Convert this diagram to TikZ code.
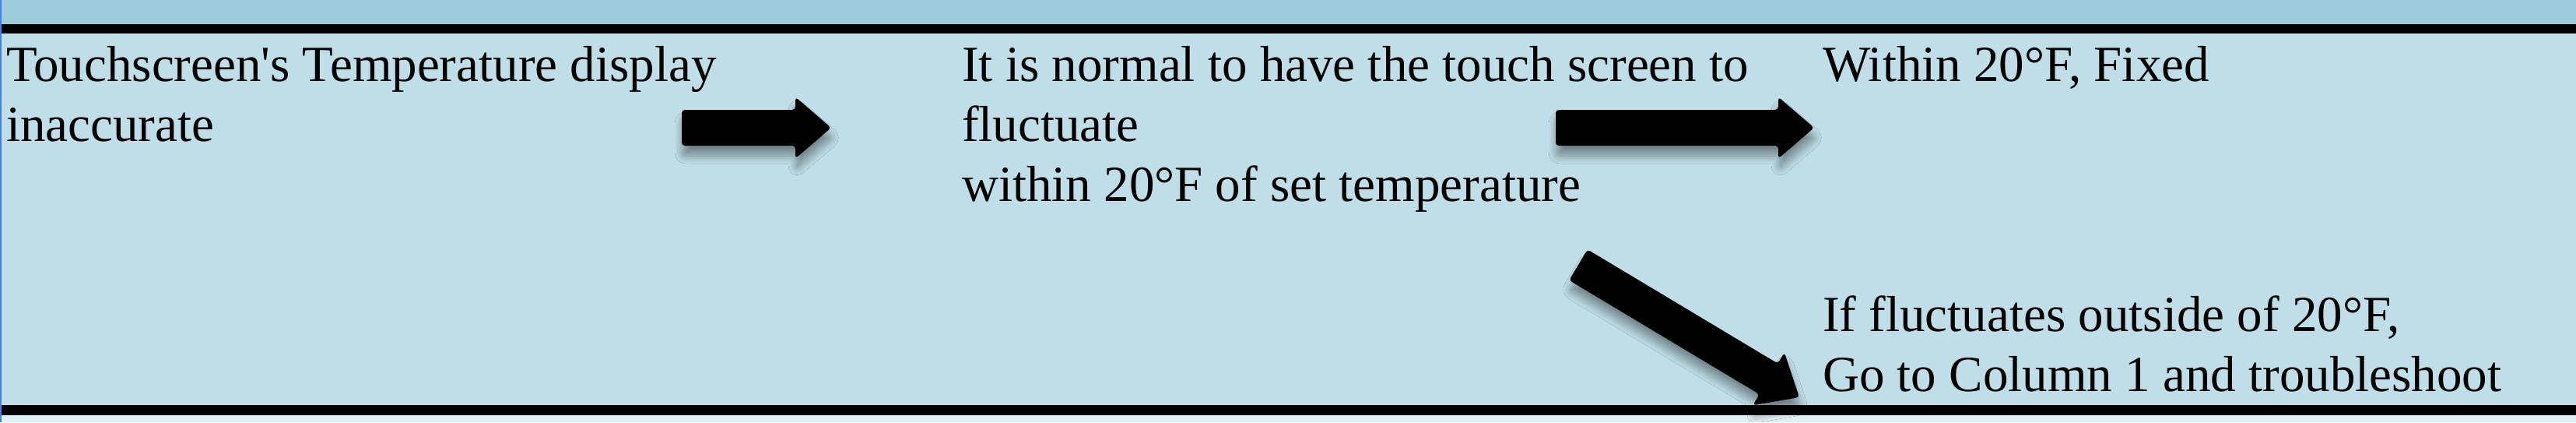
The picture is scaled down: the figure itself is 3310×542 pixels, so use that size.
\documentclass[tikz,border=0pt]{standalone}
\usepackage{fontspec}
\setmainfont{Liberation Serif}[Ligatures=TeXOff]
\usetikzlibrary{calc,shadows.blur}
\definecolor{topband}{RGB}{158,203,218}
\definecolor{mainbg}{RGB}{191,222,231}
\definecolor{botbg}{RGB}{222,239,245}
\definecolor{edgeblue}{RGB}{70,130,230}
\newcommand{\myblockarrow}[2]{%
  \coordinate (#1h) at ($(#2)!46pt!(#1)$);
  \fill[blockarrow] ($(#1)!23pt!90:(#2)$) -- ($(#1h)!23pt!90:(#2)$) -- ($(#1h)!39.5pt!90:(#2)$) -- (#2)
    -- ($(#1h)!39.5pt!-90:(#2)$) -- ($(#1h)!23pt!-90:(#2)$) -- ($(#1)!23pt!-90:(#2)$) -- cycle;}
\begin{document}
\begin{tikzpicture}[x=1pt,y=-1pt,
  txt/.style={anchor=base west, inner sep=0pt, align=left, font=\fontsize{65}{77}\selectfont},
  blockarrow/.style={fill=black, rounded corners=4pt,
    blur shadow={shadow xshift=1pt, shadow yshift=-13pt, shadow blur radius=10pt, shadow blur steps=14, shadow opacity=40}},
  blackrule/.style={line width=12.5pt, black}]
\useasboundingbox (0,0) rectangle (3310,542);
\fill[topband] (0,0) rectangle (3310,37);
\fill[mainbg] (0,37) rectangle (3310,526);
\fill[botbg] (0,526) rectangle (3310,542);
% texts (base anchor = baseline of the last line)
\node[txt] (t1) at (8,181) {Touchscreen's Temperature display\\inaccurate};
\node[txt] (t2) at (1236,258) {It is normal to have the touch screen to\\fluctuate\\within 20°F of set temperature};
\node[txt] (t3) at (2342,104) {Within 20°F, Fixed};
\node[txt] (t4) at (2342,502) {If fluctuates outside of 20°F,\\Go to Column 1 and troubleshoot};
% arrows
\coordinate (a1) at (876,164);
\coordinate (a1e) at (1068,164);
\coordinate (a2) at (1999,164);
\coordinate (a2e) at (2331,164);
\coordinate (a3) at (2028,340);
\coordinate (a3e) at (2312,510);
\myblockarrow{a1}{a1e}
\myblockarrow{a2}{a2e}
\myblockarrow{a3}{a3e}
% rules
\draw[blackrule] (0,37) -- (3310,37);
\draw[blackrule] (0,526.5) -- (3310,526.5);
\fill[edgeblue] (0,0) rectangle (1.5,542);
\end{tikzpicture}
\end{document}
